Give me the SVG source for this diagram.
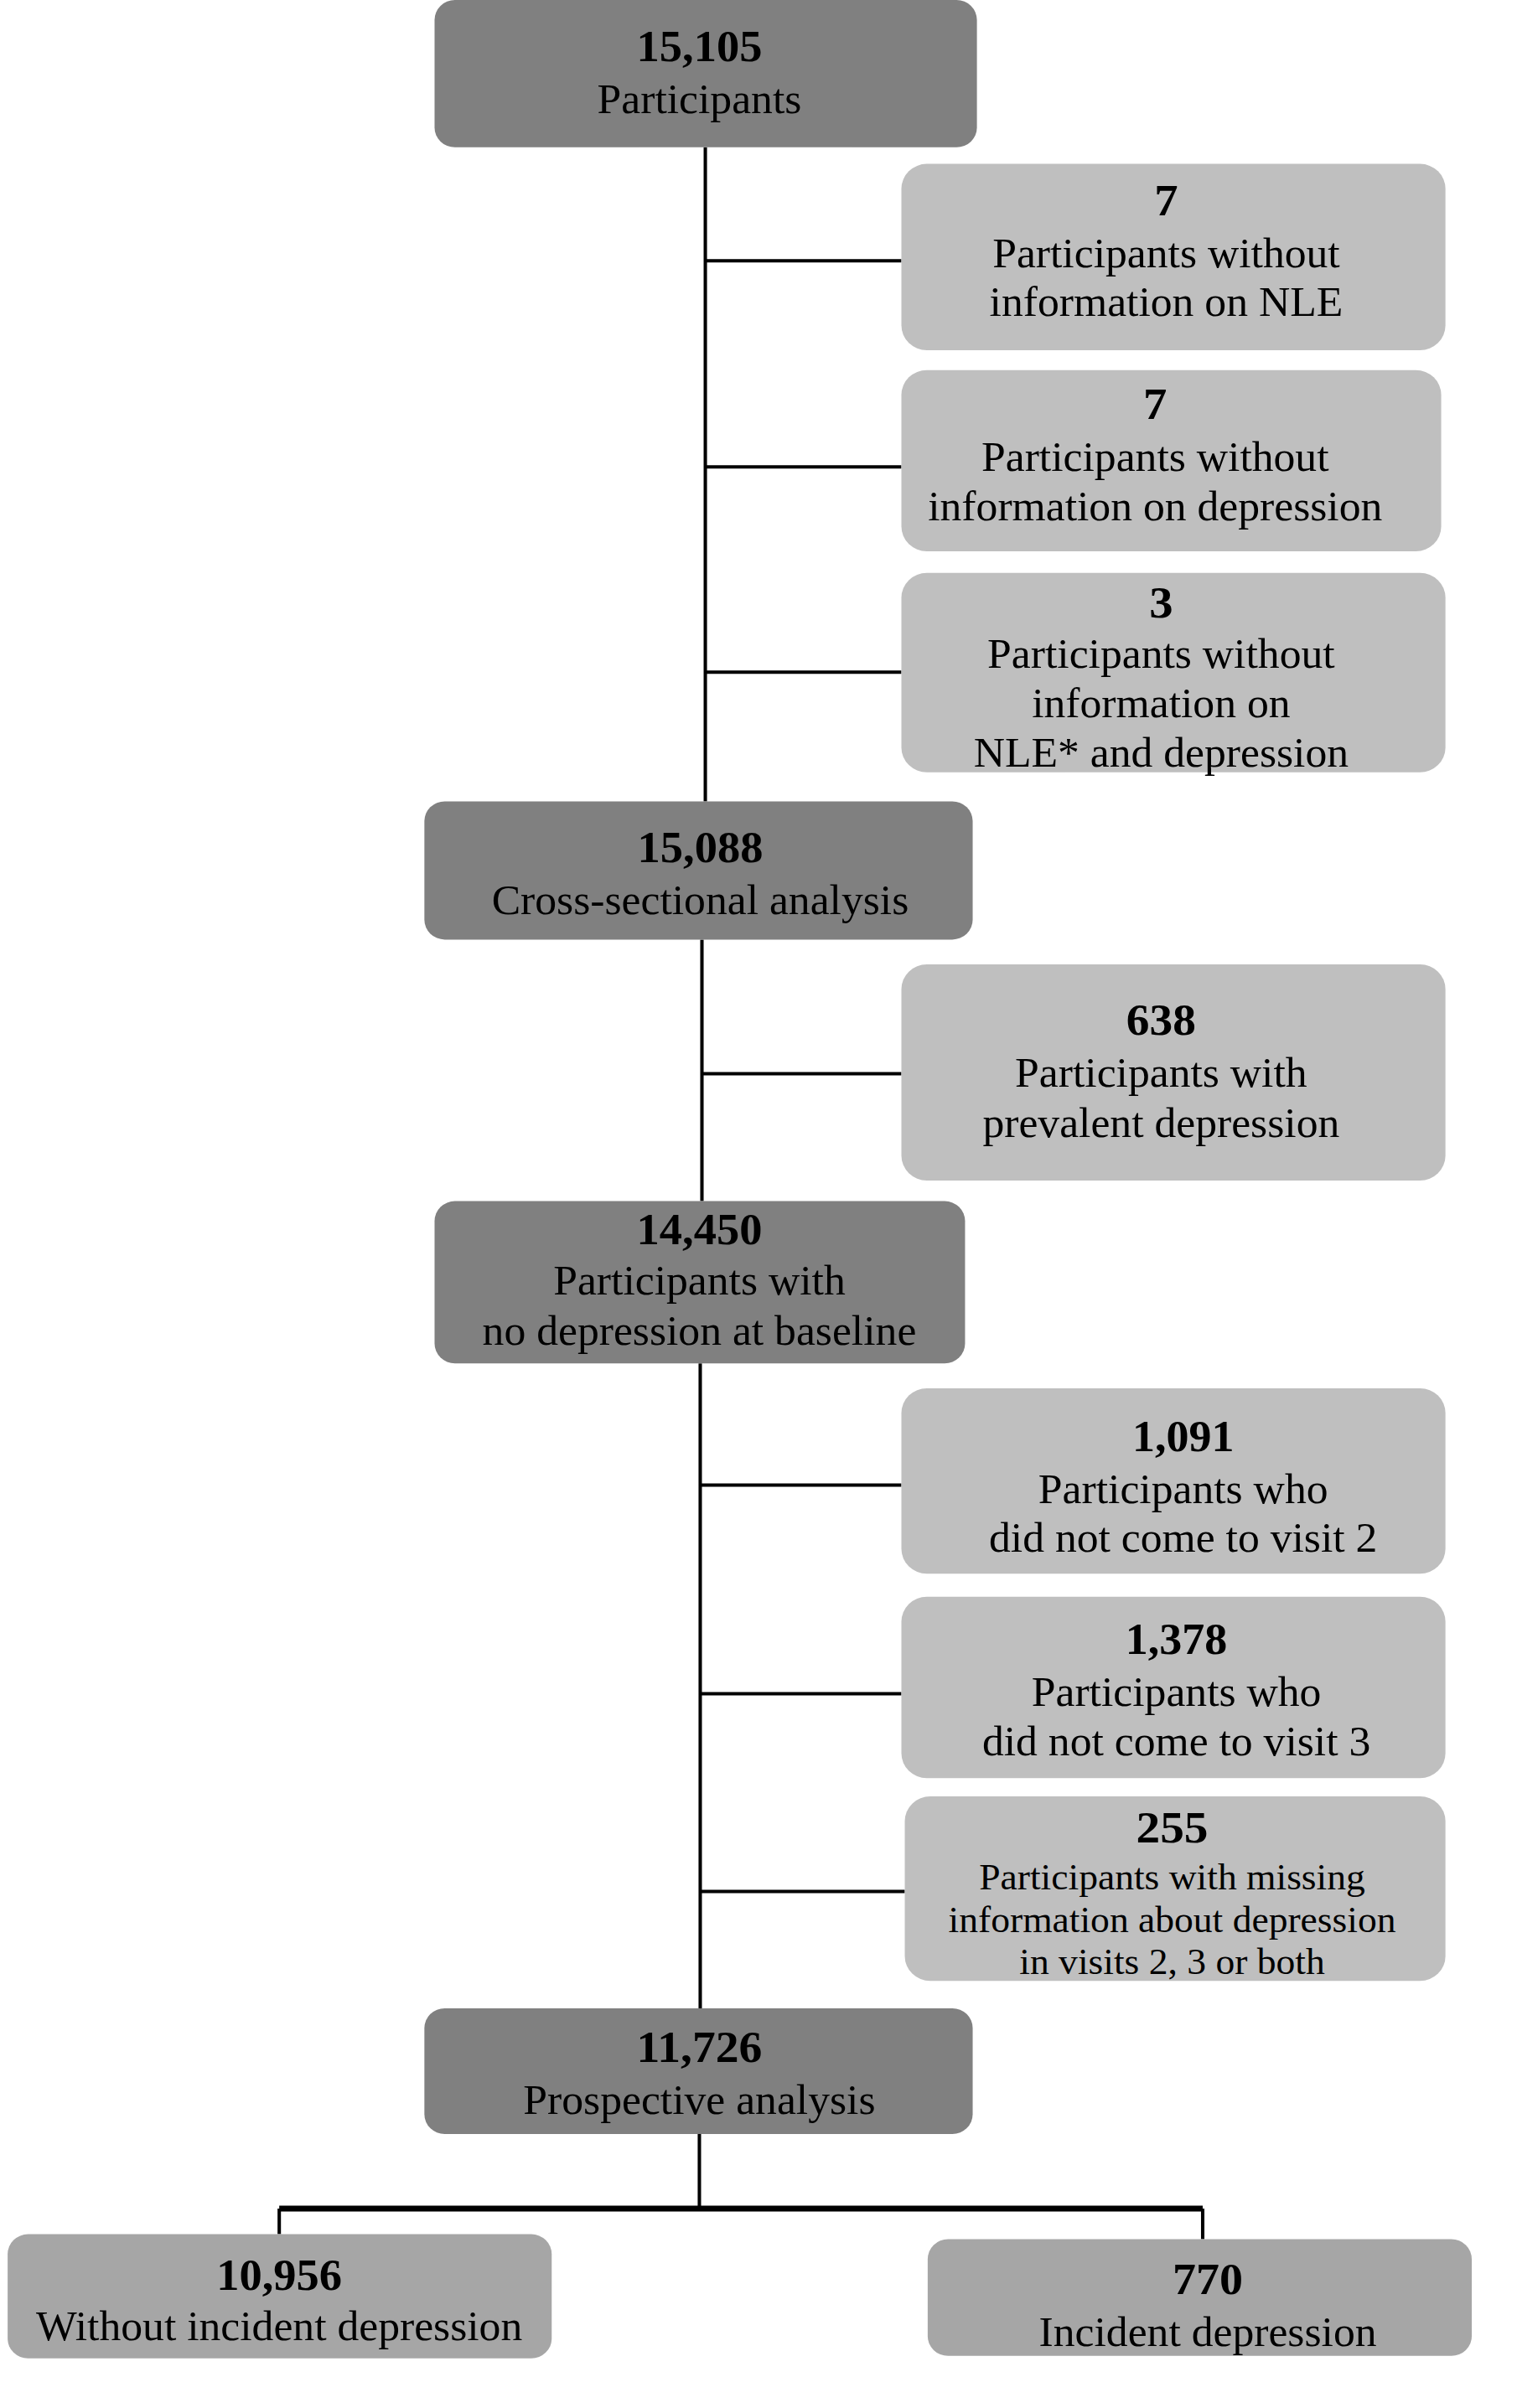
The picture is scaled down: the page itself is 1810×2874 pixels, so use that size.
<svg xmlns="http://www.w3.org/2000/svg" width="1810" height="2874" viewBox="0 0 1810 2874">
<style>
.d{fill:#808080}.l{fill:#bfbfbf}.m{fill:#a6a6a6}
text{font-family:"Liberation Serif","Times New Roman",serif;text-anchor:middle;fill:#000}
.n{font-weight:bold;font-size:54px}
.t{font-size:51px}
.s{font-size:45px}
.c{stroke:#000;stroke-width:4;fill:none}
</style>
<rect width="1810" height="2874" fill="#fff"/>
<g transform="scale(1.0127,0.988)">
<g id="connectors">
<path class="c" d="M831 178V968M831 315H1062M831 564H1062M831 812H1062"/>
<path class="c" d="M827 1135V1451M827 1297H1062"/>
<path class="c" d="M825 1647V2426M825 1794H1062M825 2046H1062M825 2285H1066"/>
<path class="c" d="M824 2578V2668M329 2668V2699M1417 2668V2705"/>
<path stroke="#000" stroke-width="7" d="M329 2668H1417"/>
</g>
<g id="n1"><rect class="d" x="512" y="0" width="639" height="178" rx="24"/><text class="n" x="824" y="74" textLength="148" lengthAdjust="spacingAndGlyphs">15,105</text><text class="t" x="824" y="137">Participants</text></g>
<g id="n2"><rect class="l" x="1062" y="198" width="641" height="225" rx="30"/><text class="n" x="1374" y="260" textLength="28" lengthAdjust="spacingAndGlyphs">7</text><text class="t" x="1374" y="323">Participants without</text><text class="t" x="1374" y="382">information on NLE</text></g>
<g id="n3"><rect class="l" x="1062" y="447" width="636" height="219" rx="30"/><text class="n" x="1361" y="506" textLength="28" lengthAdjust="spacingAndGlyphs">7</text><text class="t" x="1361" y="569">Participants without</text><text class="t" x="1361" y="629">information on depression</text></g>
<g id="n4"><rect class="l" x="1062" y="692" width="641" height="241" rx="30"/><text class="n" x="1368" y="746" textLength="28" lengthAdjust="spacingAndGlyphs">3</text><text class="t" x="1368" y="807">Participants without</text><text class="t" x="1368" y="866">information on</text><text class="t" x="1368" y="926">NLE* and depression</text></g>
<g id="n5"><rect class="d" x="500" y="968" width="646" height="167" rx="24"/><text class="n" x="825" y="1041" textLength="148" lengthAdjust="spacingAndGlyphs">15,088</text><text class="t" x="825" y="1104">Cross-sectional analysis</text></g>
<g id="n6"><rect class="l" x="1062" y="1165" width="641" height="261" rx="30"/><text class="n" x="1368" y="1250" textLength="82" lengthAdjust="spacingAndGlyphs">638</text><text class="t" x="1368" y="1313">Participants with</text><text class="t" x="1368" y="1373">prevalent depression</text></g>
<g id="n7"><rect class="d" x="512" y="1451" width="625" height="196" rx="24"/><text class="n" x="824" y="1503" textLength="148" lengthAdjust="spacingAndGlyphs">14,450</text><text class="t" x="824" y="1564">Participants with</text><text class="t" x="824" y="1625">no depression at baseline</text></g>
<g id="n8"><rect class="l" x="1062" y="1677" width="641" height="224" rx="30"/><text class="n" x="1394" y="1753" textLength="120" lengthAdjust="spacingAndGlyphs">1,091</text><text class="t" x="1394" y="1816">Participants who</text><text class="t" x="1394" y="1875">did not come to visit 2</text></g>
<g id="n9"><rect class="l" x="1062" y="1929" width="641" height="219" rx="30"/><text class="n" x="1386" y="1998" textLength="120" lengthAdjust="spacingAndGlyphs">1,378</text><text class="t" x="1386" y="2061">Participants who</text><text class="t" x="1386" y="2120">did not come to visit 3</text></g>
<g id="n10"><rect class="l" x="1066" y="2170" width="637" height="223" rx="30"/><text class="n" x="1381" y="2226" textLength="85" lengthAdjust="spacingAndGlyphs">255</text><text class="s" x="1381" y="2282">Participants with missing</text><text class="s" x="1381" y="2334">information about depression</text><text class="s" x="1381" y="2385">in visits 2, 3 or both</text></g>
<g id="n11"><rect class="d" x="500" y="2426" width="646" height="152" rx="24"/><text class="n" x="824" y="2491" textLength="148" lengthAdjust="spacingAndGlyphs">11,726</text><text class="t" x="824" y="2554">Prospective analysis</text></g>
<g id="n12"><rect class="m" x="9" y="2699" width="641" height="150" rx="24"/><text class="n" x="329" y="2766" textLength="148" lengthAdjust="spacingAndGlyphs">10,956</text><text class="t" x="329" y="2827">Without incident depression</text></g>
<g id="n13"><rect class="m" x="1093" y="2705" width="641" height="141" rx="24"/><text class="n" x="1423" y="2771" textLength="83" lengthAdjust="spacingAndGlyphs">770</text><text class="t" x="1423" y="2834">Incident depression</text></g>
</g>
</svg>
